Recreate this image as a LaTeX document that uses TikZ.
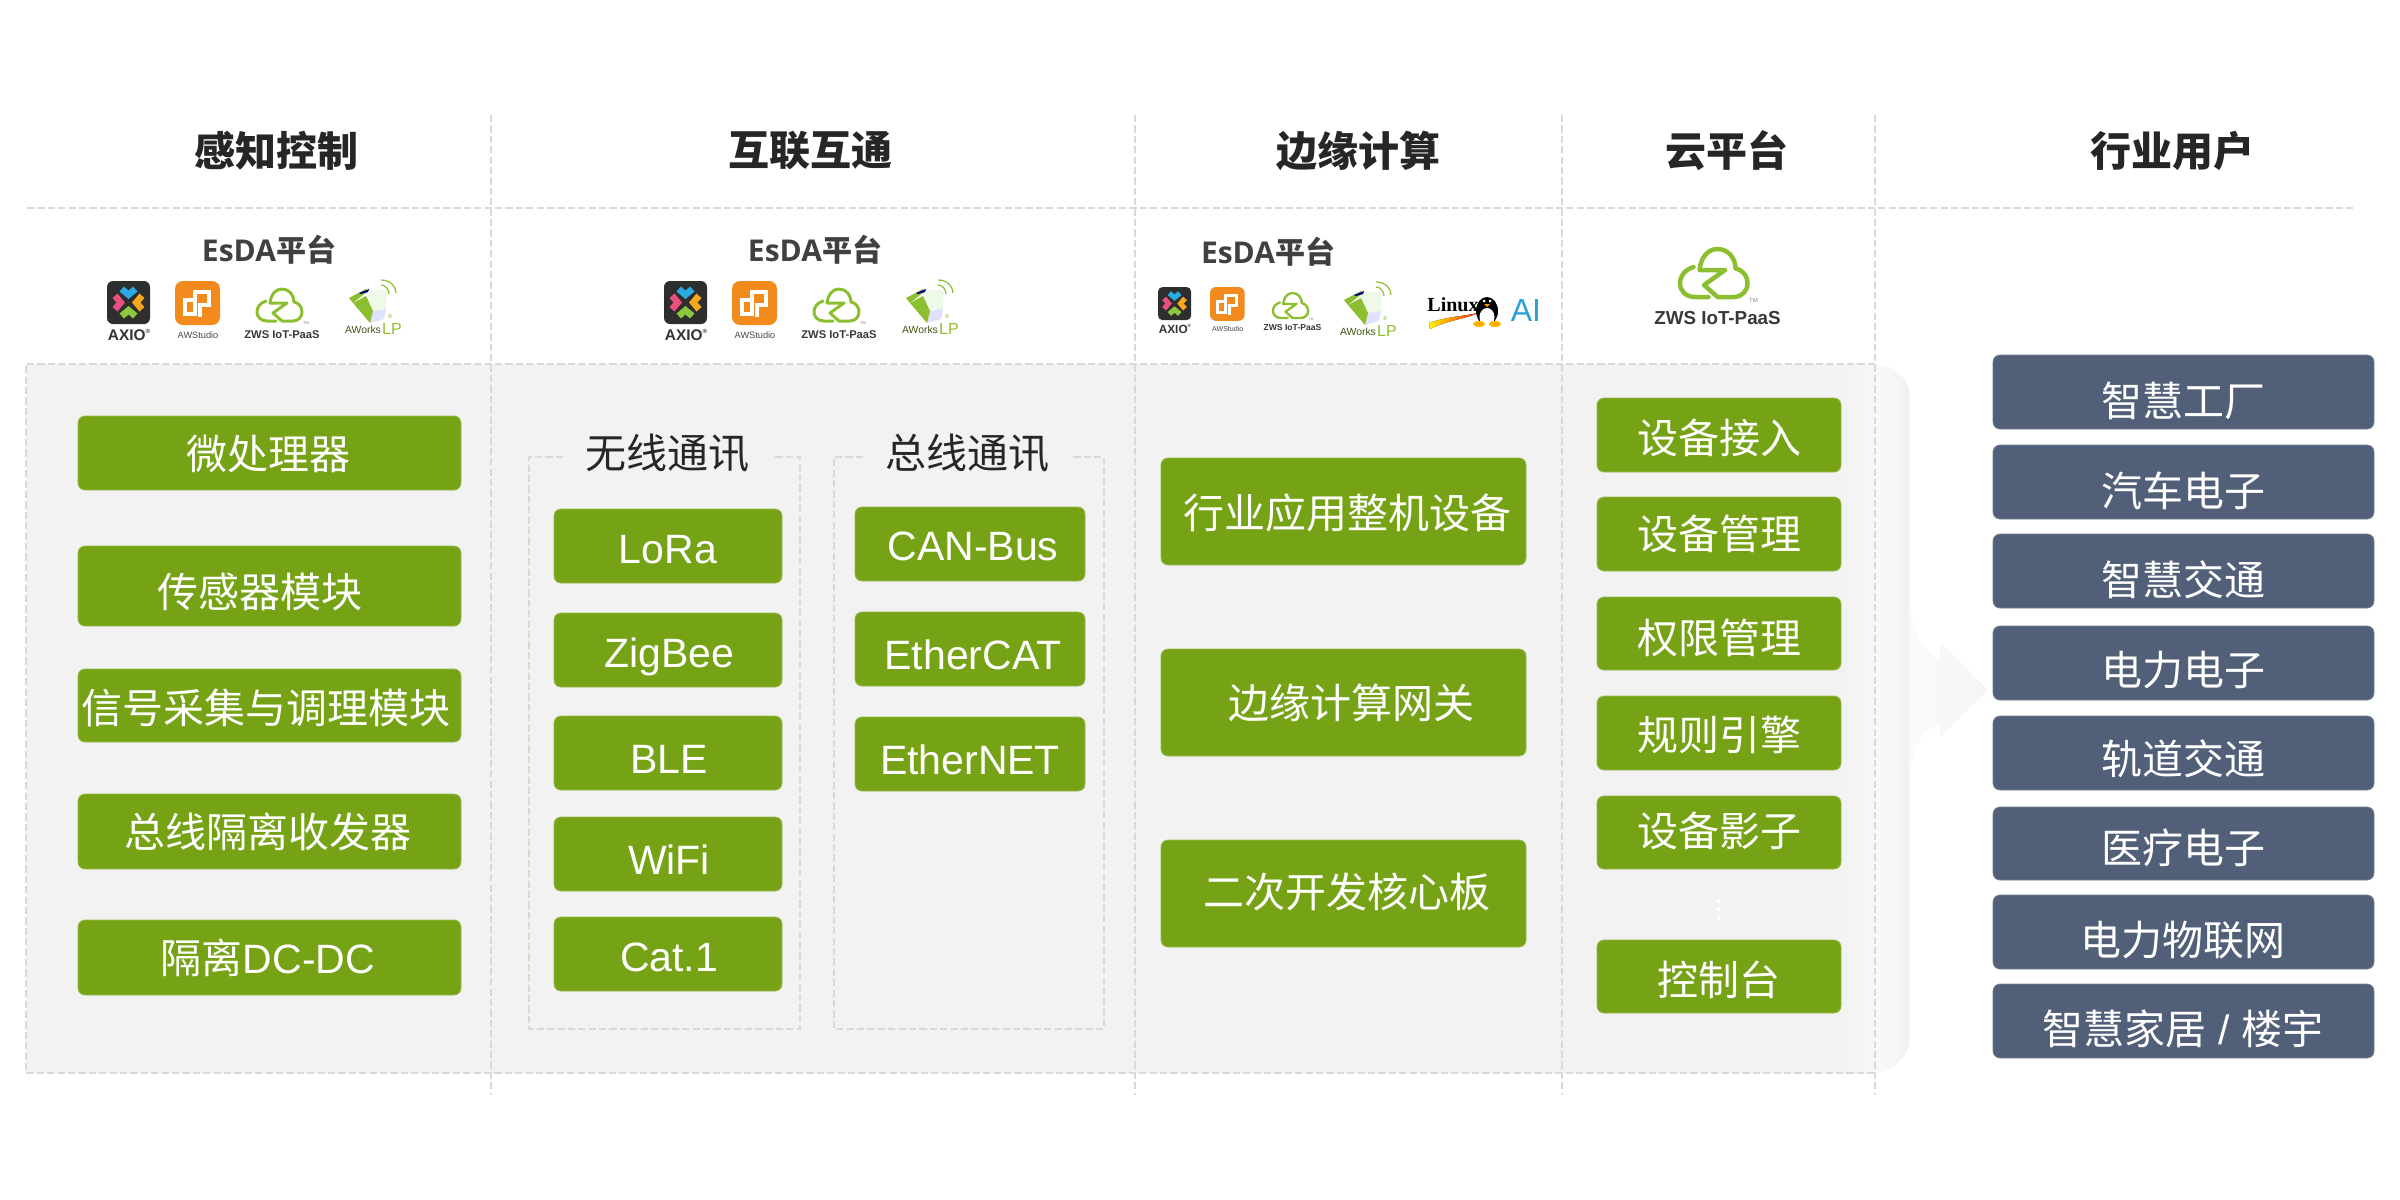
\documentclass[tikz,border=0pt]{standalone}
\usepackage{fontspec}
\setmainfont{Noto Sans CJK SC}
\newfontfamily\lat{Liberation Sans}
\newfontfamily\latser{Liberation Serif}
\newfontfamily\ops{Open Sans}
\newcommand\la[1]{{\lat #1}}
\definecolor{grn}{HTML}{76A215}
\definecolor{blu}{HTML}{525F78}
\definecolor{dashc}{HTML}{D9D9D9}
\definecolor{panel}{HTML}{F2F2F2}
\definecolor{lgreen}{HTML}{8CBF2F}
\definecolor{awo}{HTML}{F28A1E}
\definecolor{aiblue}{HTML}{2AA0D8}
\pgfdeclarehorizontalshading{bumpshade}{100bp}{color(0bp)=(white!98!black); color(25bp)=(white!98!black); color(36bp)=(white!96!black); color(39bp)=(white!94!black); color(40.5bp)=(white!98!black); color(75bp)=(white!96!black); color(100bp)=(white!96!black)}
\newcommand\fsz[1]{\fontsize{#1}{#1}\selectfont}
\tikzset{
  boxg/.style={fill=grn,draw=grn!75!white,line width=.4pt,rounded corners=3.5pt,inner sep=0pt,text=white},
  boxb/.style={fill=blu,draw=blu!80!white,line width=.4pt,rounded corners=3.5pt,inner sep=0pt,text=white},
  dsh/.style={draw=dashc,line width=1pt,dash pattern=on 3.6pt off 1.6pt},
  head/.style={font=\fsz{20.5pt}\bfseries,text=black!85,inner sep=0pt},
  esda/.style={font=\fsz{15pt}\bfseries,text=black!75,inner sep=0pt},
  sub/.style={font=\fsz{20.5pt},text=black!85,inner sep=0pt},
}
% generic box: style, name, x1,y1,x2,y2, text centre x,y, text
\newcommand\bx[9]{%
  \pgfmathsetmacro\cxx{(#3+#5)/2}\pgfmathsetmacro\cyy{(#4+#6)/2}%
  \pgfmathsetmacro\wdd{(#5-#3)/2}\pgfmathsetmacro\htt{(#6-#4)/2}%
  \pgfmathsetmacro\dxx{(#7-\cxx)}\pgfmathsetmacro\dyy{(\cyy-#8)/2-7.6}%
  \node[#1,minimum width=\wdd pt,minimum height=\htt pt,font=\fsz{20.5pt}] (#2) at (\cxx,\cyy)
    {\makebox[0pt]{\hspace*{\dxx pt}\smash{\raisebox{\dyy pt}{#9}}}};}
% logos
\newcommand\axio[4]{%
  \begin{scope}[shift={(#2,#3)},scale=#4]
    \fill[black!82,rounded corners=3pt*#4] (0,0) rectangle (43,43);
    \foreach \ang/\col in {0/29ABE2,90/E9507F,180/8DC63F,270/F5A81C}{
      \definecolor{tmpc}{HTML}{\col}
      \fill[tmpc,rotate around={\ang:(21.5,21.5)}] (21.5,18) -- (12.5,10.5) -- (17,5.5) -- (21.5,9.5) -- (26,5.5) -- (30.5,10.5) -- cycle;
    }
  \end{scope}
  \pgfmathsetmacro\fs{7.7*#4}\pgfmathsetmacro\fsb{3*#4}
  \node[inner sep=0pt,text=black!80,font=\lat\bfseries\fsz{\fs pt}] (#1axio) at ([shift={(22*#4,54*#4)}]#2,#3) {AXIO\raisebox{.5em}{\fsz{\fsb pt}®}};
}
\newcommand\awst[4]{%
  \begin{scope}[shift={(#2,#3)},scale=#4]
    \fill[awo,rounded corners=4pt*#4] (0,0) rectangle (45,44);
    \pgfmathsetmacro\lw{1.7*#4}
    \draw[white,line width=\lw pt] (22,19) -- (10,19) -- (10,33) -- (20,33) -- (20,11) -- (34,11) -- (34,24) -- (25,24) -- (25,36);
  \end{scope}
  \pgfmathsetmacro\fs{4.6*#4}
  \node[inner sep=0pt,text=black!72,font=\lat\fsz{\fs pt}] (#1awst) at ([shift={(23*#4,54*#4)}]#2,#3) {AWStudio};
}
% name, x, y, scale, text size (pt), text y offset
\newcommand\zws[6]{%
  \begin{scope}[shift={(#2,#3)},scale=#4]
    \pgfmathsetmacro\lw{1.5*#4}
    \draw[lgreen,line width=\lw pt,line join=round,line cap=round]
      (30,14) -- (13,14) .. controls (14,5) and (19,0) .. (25,0) .. controls (32,0) and (37,6) .. (37,13)
      .. controls (42,14) and (45,18) .. (45,23) .. controls (45,28) and (41,32) .. (36,32) -- (25,32) -- (16,24) -- (30,14);
    \draw[lgreen,line width=\lw pt,line join=round,line cap=round]
      (9,12) .. controls (3,14) and (0,18) .. (0,23) .. controls (0,28) and (4,32) .. (10,32) -- (19,32);
  \end{scope}
  \pgfmathsetmacro\fsb{2*#4}
  \node[inner sep=0pt,text=black!50,font=\lat\fsz{\fsb pt}] (#1tm) at ([shift={(49*#4,34*#4)}]#2,#3) {TM};
  \node[inner sep=0pt,text=black!78,font=\lat\bfseries\fsz{#5pt}] (#1zws) at ([shift={(25*#4,#6)}]#2,#3) {ZWS IoT-PaaS};
}
\newcommand\awor[3]{%
  \begin{scope}[shift={(#2,#3)}]
    \fill[yellow!22!green!8!white] (21,11) -- (43,11) -- (42,30) -- (29,32) -- (22,17) -- cycle;
    \fill[blue!12!white] (29,32) -- (42,30) -- (40,40) -- (26,44) -- cycle;
    \fill[lgreen] (9,24) -- (22,17) -- (29,32) -- (26,44) -- cycle;
    \fill[lgreen] (5,19) -- (22,10) -- (24,12) -- (9,24) -- cycle;
    \fill[blue!50!black] (15,14) -- (25,10) -- (24,13) -- (17,15) -- cycle;
    \draw[lgreen,line width=.6pt] (37,1) .. controls (46,1) and (52,7) .. (52,14);
    \draw[lgreen,line width=.6pt] (37,6) .. controls (41,6) and (45,10) .. (45,15);
  \end{scope}
  \node[inner sep=0pt,text=lgreen,font=\lat\fsz{3pt}] (#1reg) at ([shift={(46,37)}]#2,#3) {®};
  \node[inner sep=0pt,text=black!55!lgreen,font=\lat\fsz{5.2pt}] (#1awk) at ([shift={(19,51)}]#2,#3) {AWorks};
  \node[inner sep=0pt,text=lgreen,font=\lat\fsz{8pt}] (#1lp) at ([shift={(48,50)}]#2,#3) {LP};
}
\begin{document}
\begin{tikzpicture}[x=.5pt,y=-.5pt]
\useasboundingbox (0,0) rectangle (2400,1200);
% panel and bump
\fill[panel] (26,364) rectangle (1840,1073);
\fill[left color=panel,right color=white!97!black] (1840,364) rectangle (1875,1073);
\path[shading=bumpshade] (1875,364) .. controls (1895,366) and (1910,378) .. (1910,398) -- (1910,603)
  .. controls (1912,630) and (1925,655) .. (1940,660) -- (1940,643) -- (1988,690) -- (1940,737) -- (1940,724)
  .. controls (1925,728) and (1912,745) .. (1911,769) -- (1911,1033) .. controls (1911,1055) and (1895,1070) .. (1875,1074) -- cycle;
% dashed rules
\draw[dsh] (27,208) -- (2356,208);
\draw[dsh] (1875,364) -- (26,364) -- (26,1073) -- (1875,1073);
\foreach \vx in {491,1135,1562,1875}{\draw[dsh] (\vx,115) -- (\vx,1095);}
\draw[dsh] (563,457) -- (529,457) -- (529,1029) -- (800,1029) -- (800,457) -- (773,457);
\draw[dsh] (863,457) -- (834,457) -- (834,1029) -- (1104,1029) -- (1104,457) -- (1071,457);
% headers
\node[head] (h1) at (276,151) {感知控制};
\node[head] (h2) at (810,151) {互联互通};
\node[head] (h3) at (1358,151) {边缘计算};
\node[head] (h4) at (1727,151) {云平台};
\node[head] (h5) at (2172,151) {行业用户};
\node[esda] (e1) at (269,250) {{\ops EsDA}平台};
\node[esda] (e2) at (815,250) {{\ops EsDA}平台};
\node[esda] (e3) at (1268,252) {{\ops EsDA}平台};
% logos
\axio{a}{107}{281}{1}\awst{a}{175}{281}{1}\zws{a}{257}{289}{1}{5.6}{46}\awor{a}{344}{279}
\axio{b}{664}{281}{1}\awst{b}{732}{281}{1}\zws{b}{814}{289}{1}{5.6}{46}\awor{b}{901}{279}
\axio{c}{1158}{287}{.77}\awst{c}{1210}{287}{.77}\zws{c}{1273}{293}{.78}{4.3}{35}\awor{c}{1339}{281}
\zws{d}{1680}{249}{1.5}{9.4}{69}
% linux
\fill[left color=yellow!90!orange,right color=red!70!orange] (1429,323) .. controls (1445,317) and (1465,316) .. (1478,313) .. controls (1465,319) and (1445,321) .. (1430,329) -- cycle;
\node[inner sep=0pt,text=black,font=\latser\bfseries\fsz{10pt}] (lin) at (1453,305) {Linux};
\fill[black] (1487,311) ellipse [x radius=11,y radius=14];
\fill[white] (1487,317) ellipse [x radius=7.5,y radius=9];
\fill[white] (1484,301) circle (1.5) (1490,301) circle (1.5);
\fill[orange!80!yellow] (1484,304) -- (1490,304) -- (1487,307) -- cycle;
\fill[orange!60!yellow] (1479,324) ellipse [x radius=6,y radius=3];
\fill[orange!60!yellow] (1495,324) ellipse [x radius=6,y radius=3];
\node[inner sep=0pt,text=aiblue,font=\lat\fsz{16pt}] (ai) at (1526,310) {AI};
% column 1
\bx{boxg}{c1a}{78}{416}{461}{490}{268}{454}{微处理器}
\bx{boxg}{c1b}{78}{546}{461}{626}{260}{592}{传感器模块}
\bx{boxg}{c1c}{78}{669}{461}{742}{266}{708}{信号采集与调理模块}
\bx{boxg}{c1d}{78}{794}{461}{869}{268}{832}{总线隔离收发器}
\bx{boxg}{c1e}{78}{920}{461}{995}{268}{958}{隔离\la{DC-DC}}
% column 2
\node[sub] (w) at (667,453) {无线通讯};
\node[sub] (z) at (967,453) {总线通讯};
\bx{boxg}{l1}{554}{509}{782}{583}{668}{548}{\la{LoRa}}
\bx{boxg}{l2}{554}{613}{782}{687}{669}{652}{\la{ZigBee}}
\bx{boxg}{l3}{554}{716}{782}{790}{669}{758}{\la{BLE}}
\bx{boxg}{l4}{554}{817}{782}{891}{669}{859}{\la{WiFi}}
\bx{boxg}{l5}{554}{917}{782}{991}{669}{956}{\la{Cat.1}}
\bx{boxg}{r1}{855}{507}{1085}{581}{973}{545}{\la{CAN-Bus}}
\bx{boxg}{r2}{855}{612}{1085}{686}{973}{654}{\la{EtherCAT}}
\bx{boxg}{r3}{855}{717}{1085}{791}{970}{759}{\la{EtherNET}}
% column 3
\bx{boxg}{m1}{1161}{458}{1526}{565}{1347}{513}{行业应用整机设备}
\bx{boxg}{m2}{1161}{649}{1526}{756}{1351}{703}{边缘计算网关}
\bx{boxg}{m3}{1161}{840}{1526}{947}{1347}{892}{二次开发核心板}
% column 4
\bx{boxg}{k1}{1597}{398}{1841}{472}{1719}{438}{设备接入}
\bx{boxg}{k2}{1597}{497}{1841}{571}{1719}{534}{设备管理}
\bx{boxg}{k3}{1597}{597}{1841}{670}{1719}{638}{权限管理}
\bx{boxg}{k4}{1597}{696}{1841}{770}{1719}{735}{规则引擎}
\bx{boxg}{k5}{1597}{796}{1841}{869}{1719}{831}{设备影子}
\bx{boxg}{k6}{1597}{940}{1841}{1013}{1719}{980}{控制台}
\fill[white] (1719,901) circle (2) (1719,909) circle (2) (1719,918) circle (2);
% right
\bx{boxb}{u1}{1993}{355}{2374}{429}{2183}{401}{智慧工厂}
\bx{boxb}{u2}{1993}{445}{2374}{519}{2183}{491}{汽车电子}
\bx{boxb}{u3}{1993}{534}{2374}{608}{2183}{580}{智慧交通}
\bx{boxb}{u4}{1993}{626}{2374}{700}{2183}{670}{电力电子}
\bx{boxb}{u5}{1993}{716}{2374}{790}{2183}{759}{轨道交通}
\bx{boxb}{u6}{1993}{807}{2374}{880}{2183}{848}{医疗电子}
\bx{boxb}{u7}{1993}{895}{2374}{969}{2183}{940}{电力物联网}
\bx{boxb}{u8}{1993}{984}{2374}{1058}{2183}{1029}{智慧家居\la{ / }楼宇}
\end{tikzpicture}
\end{document}
